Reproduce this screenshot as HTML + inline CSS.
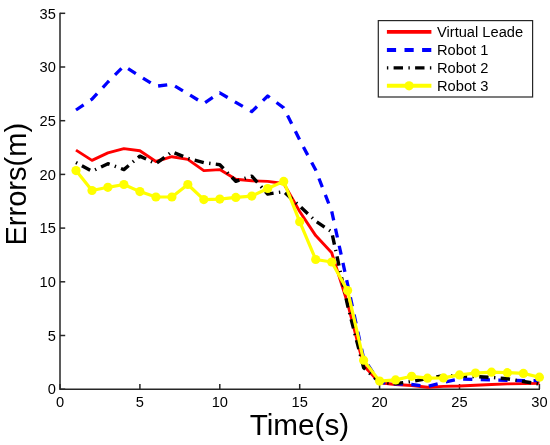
<!DOCTYPE html>
<html><head><meta charset="utf-8"><title>Errors vs Time</title>
<style>html,body{margin:0;padding:0;background:#fff}svg{display:block}</style></head>
<body>
<svg width="550" height="445" viewBox="0 0 550 445">
<rect width="550" height="445" fill="#fff"/>
<g stroke="#262626" stroke-width="1.5" fill="none">
<path d="M60.0,12.7 V389.2 H540.0"/>
<path d="M60.0,389.2 h5.2"/>
<path d="M60.0,335.5 h5.2"/>
<path d="M60.0,281.8 h5.2"/>
<path d="M60.0,228.1 h5.2"/>
<path d="M60.0,174.4 h5.2"/>
<path d="M60.0,120.7 h5.2"/>
<path d="M60.0,67.0 h5.2"/>
<path d="M60.0,13.3 h5.2"/>
<path d="M60.0,389.2 v-5.2"/>
<path d="M139.9,389.2 v-5.2"/>
<path d="M219.8,389.2 v-5.2"/>
<path d="M299.7,389.2 v-5.2"/>
<path d="M379.6,389.2 v-5.2"/>
<path d="M459.5,389.2 v-5.2"/>
<path d="M539.4,389.2 v-5.2"/>
</g>
<g font-family="Liberation Sans, Arial, Helvetica, sans-serif" font-size="14.67" fill="#000">
<text x="55.8" y="394.4" text-anchor="end">0</text>
<text x="55.8" y="340.7" text-anchor="end">5</text>
<text x="55.8" y="287.0" text-anchor="end">10</text>
<text x="55.8" y="233.3" text-anchor="end">15</text>
<text x="55.8" y="179.6" text-anchor="end">20</text>
<text x="55.8" y="125.9" text-anchor="end">25</text>
<text x="55.8" y="72.2" text-anchor="end">30</text>
<text x="55.8" y="18.5" text-anchor="end">35</text>
<text x="60.0" y="406.9" text-anchor="middle">0</text>
<text x="139.9" y="406.9" text-anchor="middle">5</text>
<text x="219.8" y="406.9" text-anchor="middle">10</text>
<text x="299.7" y="406.9" text-anchor="middle">15</text>
<text x="379.6" y="406.9" text-anchor="middle">20</text>
<text x="459.5" y="406.9" text-anchor="middle">25</text>
<text x="539.4" y="406.9" text-anchor="middle">30</text>
</g>
<g font-family="Liberation Sans, Arial, Helvetica, sans-serif" fill="#000">
<text x="299.4" y="434.9" font-size="29.7" text-anchor="middle">Time(s)</text>
<text transform="translate(25.9,184.2) rotate(-90)" font-size="29.1" text-anchor="middle">Errors(m)</text>
</g>
<g fill="none" stroke-linejoin="round">
<polyline points="76.0,150.1 92.0,160.4 107.9,152.9 123.9,148.6 139.9,150.8 155.9,161.5 171.9,156.7 187.8,159.4 203.8,170.6 219.8,169.6 235.8,179.2 251.8,180.8 267.7,181.4 283.7,183.5 299.7,211.5 315.7,235.6 331.7,252.8 347.6,303.3 363.6,365.6 379.6,382.8 395.6,384.5 411.6,385.5 427.5,387.3 443.5,386.4 459.5,386.0 475.5,385.2 491.5,384.5 507.4,383.9 523.4,383.6 539.4,383.4" stroke="#f00" stroke-width="2.9"/>
<polyline points="76.0,110.0 92.0,99.2 107.9,82.0 123.9,65.9 139.9,76.1 155.9,86.3 171.9,84.2 187.8,93.8 203.8,103.5 219.8,92.8 235.8,102.4 251.8,111.6 267.7,96.0 283.7,107.8 299.7,140.0 315.7,170.1 331.7,211.2 347.6,284.4 363.6,358.4 379.6,382.5 395.6,383.8 411.6,384.5 427.5,386.4 443.5,382.3 459.5,379.0 475.5,379.5 491.5,379.9 507.4,380.3 523.4,380.7 539.4,380.6" stroke="#00f" stroke-width="3.3" stroke-dasharray="9.2 8.4"/>
<polyline points="76.0,162.6 92.0,171.2 107.9,163.7 123.9,169.6 139.9,156.1 155.9,163.7 171.9,151.8 187.8,158.3 203.8,162.6 219.8,164.7 235.8,181.3 251.8,176.1 267.7,194.1 283.7,191.6 299.7,206.1 315.7,221.1 331.7,231.9 347.6,305.4 363.6,367.7 379.6,382.3 395.6,383.6 411.6,381.5 427.5,378.5 443.5,375.8 459.5,375.8 475.5,376.6 491.5,377.4 507.4,378.8 523.4,381.5 539.4,384.0" stroke="#000" stroke-width="3.4" stroke-dasharray="1.4 5.3 9.4 5.4"/>
<polyline points="76.0,170.6 92.0,190.5 107.9,187.3 123.9,184.5 139.9,191.6 155.9,197.0 171.9,197.0 187.8,184.5 203.8,199.6 219.8,199.1 235.8,197.4 251.8,196.1 267.7,188.5 283.7,181.4 299.7,221.7 315.7,259.5 331.7,262.0 347.6,290.6 363.6,360.2 379.6,381.1 395.6,379.9 411.6,376.3 427.5,378.2 443.5,377.9 459.5,374.9 475.5,373.1 491.5,372.2 507.4,372.7 523.4,373.4 539.4,377.2" stroke="#ff0" stroke-width="3.2"/>
</g>
<g fill="#ff0">
<circle cx="76.0" cy="170.6" r="4.6"/>
<circle cx="92.0" cy="190.5" r="4.6"/>
<circle cx="107.9" cy="187.3" r="4.6"/>
<circle cx="123.9" cy="184.5" r="4.6"/>
<circle cx="139.9" cy="191.6" r="4.6"/>
<circle cx="155.9" cy="197.0" r="4.6"/>
<circle cx="171.9" cy="197.0" r="4.6"/>
<circle cx="187.8" cy="184.5" r="4.6"/>
<circle cx="203.8" cy="199.6" r="4.6"/>
<circle cx="219.8" cy="199.1" r="4.6"/>
<circle cx="235.8" cy="197.4" r="4.6"/>
<circle cx="251.8" cy="196.1" r="4.6"/>
<circle cx="267.7" cy="188.5" r="4.6"/>
<circle cx="283.7" cy="181.4" r="4.6"/>
<circle cx="299.7" cy="221.7" r="4.6"/>
<circle cx="315.7" cy="259.5" r="4.6"/>
<circle cx="331.7" cy="262.0" r="4.6"/>
<circle cx="347.6" cy="290.6" r="4.6"/>
<circle cx="363.6" cy="360.2" r="4.6"/>
<circle cx="379.6" cy="381.1" r="4.6"/>
<circle cx="395.6" cy="379.9" r="4.6"/>
<circle cx="411.6" cy="376.3" r="4.6"/>
<circle cx="427.5" cy="378.2" r="4.6"/>
<circle cx="443.5" cy="377.9" r="4.6"/>
<circle cx="459.5" cy="374.9" r="4.6"/>
<circle cx="475.5" cy="373.1" r="4.6"/>
<circle cx="491.5" cy="372.2" r="4.6"/>
<circle cx="507.4" cy="372.7" r="4.6"/>
<circle cx="523.4" cy="373.4" r="4.6"/>
<circle cx="539.4" cy="377.2" r="4.6"/>
</g>
<rect x="378.3" y="20.6" width="154.3" height="76.4" fill="#fff" stroke="#262626" stroke-width="1.2"/>
<g fill="none">
<path d="M386.9,31.9 H431.4" stroke="#f00" stroke-width="3.7"/>
<path d="M386.9,50.0 H431.4" stroke="#00f" stroke-width="3.8" stroke-dasharray="9.2 8.4"/>
<path d="M386.9,67.9 H431.4" stroke="#000" stroke-width="3.4" stroke-dasharray="1.4 5.3 9.4 5.4"/>
<path d="M386.9,85.8 H431.4" stroke="#ff0" stroke-width="4.0"/>
</g>
<circle cx="409.1" cy="85.8" r="4.6" fill="#ff0"/>
<g font-family="Liberation Sans, Arial, Helvetica, sans-serif" font-size="14.67" fill="#000">
<text x="437" y="36.6">Virtual Leade</text>
<text x="437" y="54.7">Robot 1</text>
<text x="437" y="72.8">Robot 2</text>
<text x="437" y="90.9">Robot 3</text>
</g>
</svg>
</body></html>
